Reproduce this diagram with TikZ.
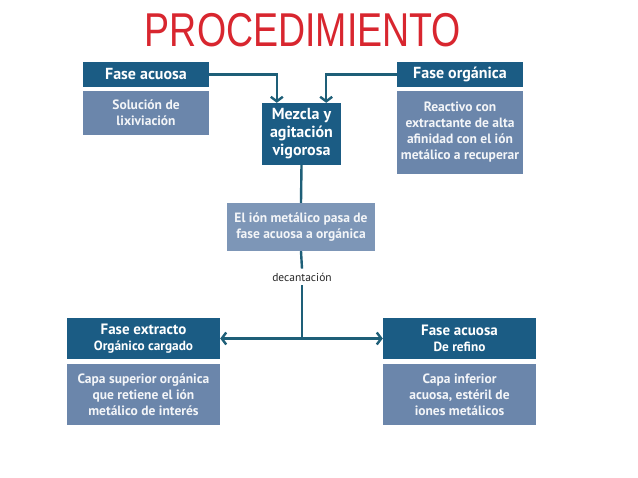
\documentclass[tikz,border=0pt]{standalone}
\usepackage{fontspec}
\setmainfont{PT Sans}
\newfontfamily\titlefont{Liberation Sans}
\usepackage{graphicx}
\usetikzlibrary{arrows.meta, positioning, calc}

\definecolor{headblue}{HTML}{1B5C84}
\definecolor{bodyblue}{HTML}{6B86AB}
\definecolor{midblue}{HTML}{7D96B7}
\definecolor{linecol}{HTML}{1E5F78}
\definecolor{titlered}{HTML}{D8262F}

\tikzset{
    head/.style={fill=headblue, text=white, font=\bfseries\fontsize{16}{18}\selectfont, align=center, inner sep=0pt},
    body/.style={fill=bodyblue, text=white!92!bodyblue, font=\bfseries\fontsize{13.5}{16}\selectfont, align=center, inner sep=0pt},
    link/.style={draw=linecol, line width=2.4pt},
    conn/.style={link, -{Straight Barb[length=4.5pt, width=12pt]}},
}

\begin{document}
\begin{tikzpicture}[x=1pt, y=-1pt]
            \useasboundingbox (0,0) rectangle (638,478);
            % title
            \node[text=titlered, font=\titlefont\fontsize{47.5}{50}\selectfont] (title) at (303,30) {\scalebox{0.79}[1]{PROCEDIMIENTO}};
            % top row
            \node[head, minimum width=126pt, minimum height=25pt] (faHead) at (146,74.5) {Fase acuosa};
            \node[body, minimum width=126pt, minimum height=44pt] (faBody) at (146,113) {Solución de\\lixiviación};
            \node[head, minimum width=126pt, minimum height=25pt] (foHead) at (460,74.5) {Fase orgánica};
            \node[body, minimum width=126pt, minimum height=83pt] (foBody) at (460,132.5) {Reactivo con\\extractante de alta\\afinidad con el ión\\metálico a recuperar};
            \node[head, minimum width=79pt, minimum height=62pt, font=\bfseries\fontsize{16}{18}\selectfont] (mezcla) at (301.5,134) {Mezcla y\\agitación\\vigorosa};
            % middle
            \node[body, fill=midblue, minimum width=148pt, minimum height=48pt, font=\bfseries\fontsize{13.5}{16}\selectfont] (middle) at (301,227) {El ión metálico pasa de\\fase acuosa a orgánica};
            \node[text=black!85, font=\fontsize{11.5}{13}\selectfont, inner sep=4pt] (decant) at (302,277) {decantación};
            % bottom row
            \node[head, minimum width=153pt, minimum height=41pt, font=\bfseries\fontsize{15}{17}\selectfont] (exHead) at (143.5,338.5) {Fase extracto\\[-1pt]{\fontsize{13.3}{15}\selectfont Orgánico cargado}};
            \node[body, minimum width=153pt, minimum height=61pt] (exBody) at (143.5,394.5) {Capa superior orgánica\\que retiene el ión\\metálico de interés};
            \node[head, minimum width=153pt, minimum height=41pt, font=\bfseries\fontsize{15}{17}\selectfont] (refHead) at (459.5,338.5) {Fase acuosa\\[-1pt]{\fontsize{13.3}{15}\selectfont De refino}};
            \node[body, minimum width=153pt, minimum height=61pt] (refBody) at (459.5,394.5) {Capa inferior\\acuosa, estéril de\\iones metálicos};
            \coordinate (split) at (decant.south |- exHead.east);
            % connectors
            \draw[conn] (faHead.east) -| ([xshift=15pt]mezcla.north west);
            \draw[conn] (foHead.west) -| ([xshift=-15pt]mezcla.north east);
            \draw[link] (mezcla.south) -- (middle.north);
            \draw[link] (middle.south) -- (decant.north);
            \draw[link] (decant.south) -- (split);
            \draw[conn] (split) -- (exHead.east);
            \draw[conn] (split) -- (refHead.west);
        \end{tikzpicture}
\end{document}
